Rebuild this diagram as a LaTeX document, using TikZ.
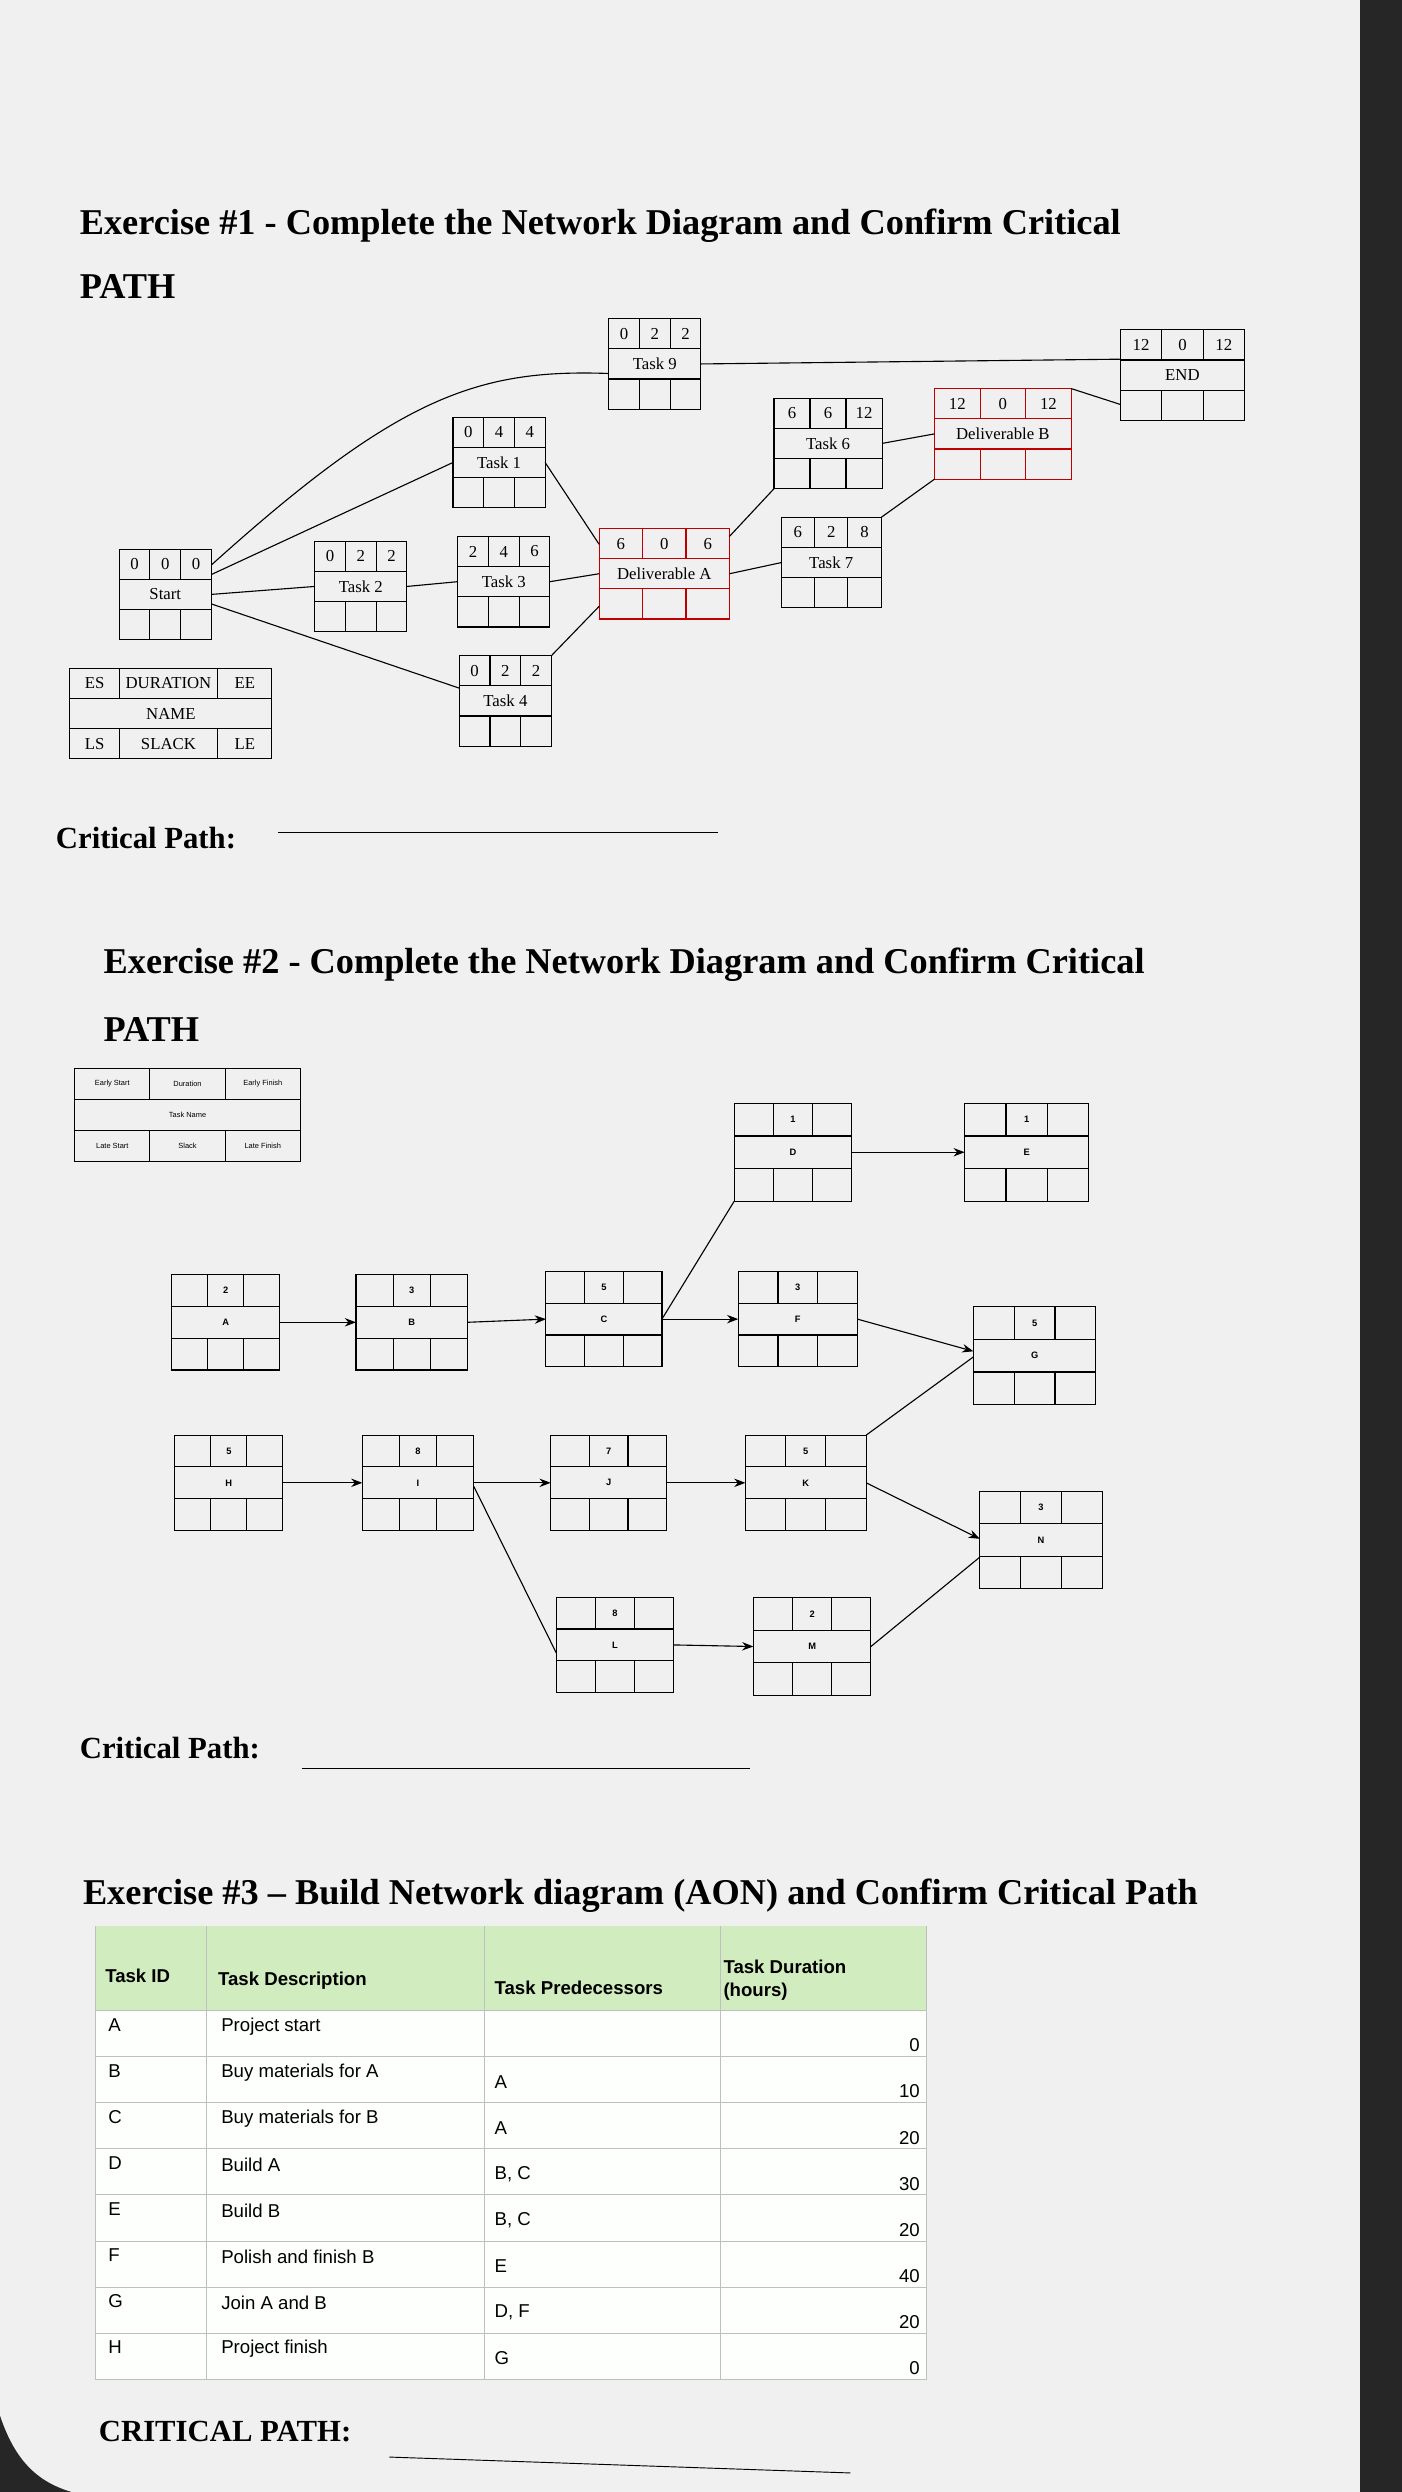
\documentclass[tikz,border=0pt]{standalone}
\usepackage{fontspec}
\setmainfont{Liberation Serif}
\setsansfont{Liberation Sans}
\usetikzlibrary{calc,arrows.meta}
\newcommand\nb[9]{%
\node[draw=#5,line width=0.6pt,inner sep=0,outer sep=0,minimum width=#3*0.03cm,minimum height=#4*0.09cm] (#1) at #2 {};
\draw[#5,line width=0.6pt] ($(#1.north west)+(0,#4)$) -- ($(#1.north east)+(0,#4)$);
\draw[#5,line width=0.6pt] ($(#1.north west)+(0,2*#4)$) -- ($(#1.north east)+(0,2*#4)$);
\foreach \f in {1,2}{\draw[#5,line width=0.6pt] ($(#1.north west)+(\f*#3/3,0)$) -- ++(0,#4); \draw[#5,line width=0.6pt] ($(#1.south west)+(\f*#3/3,0)$) -- ++(0,-#4);}
\node[bt] at ($(#1.north west)+(#3/6,#4/2)$) {#6};
\node[bt] at ($(#1.north west)+(#3/2,#4/2)$) {#7};
\node[bt] at ($(#1.north west)+(5*#3/6,#4/2)$) {#8};
\node[bt] at ($(#1.north west)+(#3/2,1.5*#4)$) {#9};
}
\begin{document}
\begin{tikzpicture}[x=0.03cm,y=-0.03cm,
  bt/.style={font=\fontsize{9}{10}\selectfont,inner sep=0},
  ttl/.style={font=\fontsize{19.5}{22}\selectfont\bfseries,anchor=west,inner sep=0},
  cpt/.style={font=\fontsize{16.5}{19}\selectfont\bfseries,anchor=west,inner sep=0},
  conn/.style={line width=0.6pt},
  arr/.style={line width=0.6pt,-{Stealth[length=6pt]}},
  tc/.style={font=\sffamily\fontsize{10}{12}\selectfont,anchor=west,inner sep=0}]
\useasboundingbox (0,0) rectangle (882,1568);
\fill[black!6] (0,0) rectangle (882,1568);
\fill[black!85] (856,0) rectangle (882,1568);
\fill[black!85] (0,1520) .. controls (10,1550) and (25,1562) .. (45,1568) -- (0,1568) -- cycle;
% ---------- Exercise 1
\node[ttl] (t1) at (50,142) {Exercise \#1 - Complete the Network Diagram and Confirm Critical};
\node[ttl] (t1b) at (50,180) {PATH};
\nb{t9}{(412,229)}{58}{19}{black}{0}{2}{2}{Task 9}
\nb{st}{(104,374)}{58}{19}{black}{0}{0}{0}{Start}
\nb{t1n}{(314,291)}{58}{19}{black}{0}{4}{4}{Task 1}
\nb{t2}{(227,369)}{58}{19}{black}{0}{2}{2}{Task 2}
\nb{t3}{(317,366)}{58}{19}{black}{2}{4}{6}{Task 3}
\nb{t4}{(318,441)}{58}{19}{black}{0}{2}{2}{Task 4}
\nb{da}{(418,361)}{82}{19}{red!75!black}{6}{0}{6}{Deliverable A}
\nb{t6}{(521,279)}{68}{19}{black}{6}{6}{12}{Task 6}
\nb{t7}{(523,354)}{63}{19}{black}{6}{2}{8}{Task 7}
\nb{db}{(631,273)}{86}{19}{red!75!black}{12}{0}{12}{Deliverable B}
\nb{en}{(744,236)}{78}{19}{black}{12}{0}{12}{END}
% legend with uneven columns
\node[draw,line width=0.6pt,inner sep=0,outer sep=0,minimum width=127*0.03cm,minimum height=57*0.03cm] (lg) at (107.5,449) {};
\draw[line width=0.6pt] ($(lg.north west)+(0,19)$) -- ($(lg.north east)+(0,19)$);
\draw[line width=0.6pt] ($(lg.north west)+(0,38)$) -- ($(lg.north east)+(0,38)$);
\foreach \dx in {31,93}{\draw[line width=0.6pt] ($(lg.north west)+(\dx,0)$) -- ++(0,19); \draw[line width=0.6pt] ($(lg.south west)+(\dx,0)$) -- ++(0,-19);}
\node[bt] at ($(lg.north west)+(15.5,9.5)$) {ES};
\node[bt] at ($(lg.north west)+(62,9.5)$) {DURATION};
\node[bt] at ($(lg.north west)+(110,9.5)$) {EE};
\node[bt] at ($(lg.north west)+(63.5,28.5)$) {NAME};
\node[bt] at ($(lg.south west)+(15.5,-9.5)$) {LS};
\node[bt] at ($(lg.south west)+(62,-9.5)$) {SLACK};
\node[bt] at ($(lg.south west)+(110,-9.5)$) {LE};
\draw[conn] ($(st.north east)+(0,10)$) .. controls (250,250) and (300,232) .. ($(t9.west)+(0,6)$);
\draw[conn] ($(st.north east)+(0,16)$) -- ($(t1n.west)+(0,0)$);
\draw[conn] (st.east) -- (t2.west);
\draw[conn] ($(st.east)+(0,6)$) -- ($(t4.west)+(0,-8)$);
\draw[conn] (t2.east) -- (t3.west);
\draw[conn] (t1n.east) -- ($(da.north west)+(0,10)$);
\draw[conn] (t3.east) -- (da.west);
\draw[conn] (t4.north east) -- ($(da.south west)+(0,-8)$);
\draw[conn] ($(da.north east)+(0,5)$) -- (t6.south west);
\draw[conn] (da.east) -- (t7.west);
\draw[conn] (t6.east) -- (db.west);
\draw[conn] (t7.north east) -- (db.south west);
\draw[conn] (db.north east) -- ($(en.south west)+(0,-10)$);
\draw[conn] (t9.east) -- ($(en.west)+(0,-10)$);
\node[cpt] (cp1) at (35,527) {Critical Path:};
\coordinate (l1a) at (175,524); \coordinate (l1b) at (452,524);
\draw[line width=0.5pt] (l1a) -- (l1b);
% ---------- Exercise 2
\node[ttl] (t2t) at (65,607) {Exercise \#2 - Complete the Network Diagram and Confirm Critical};
\node[ttl] (t2b) at (65,648) {PATH};
\begin{scope}[bt/.style={font=\sffamily\fontsize{4}{5}\selectfont,inner sep=0}]
\nb{lg2}{(118,701.5)}{142}{19.5}{black}{Early Start}{Duration}{Early Finish}{Task Name}
\node[bt] at ($(lg2.south west)+(142/6,-9.75)$) {Late Start};
\node[bt] at ($(lg2.south west)+(142/2,-9.75)$) {Slack};
\node[bt] at ($(lg2.south west)+(5*142/6,-9.75)$) {Late Finish};
\end{scope}
\begin{scope}[bt/.style={font=\sffamily\bfseries\fontsize{5}{6}\selectfont,inner sep=0}]
\nb{D}{(499,725)}{74}{20.5}{black}{}{1}{}{D}
\nb{E}{(646,725)}{78}{20.5}{black}{}{1}{}{E}
\nb{A}{(142,832)}{68}{20}{black}{}{2}{}{A}
\nb{B}{(259,832)}{70}{20}{black}{}{3}{}{B}
\nb{C}{(380,830)}{73}{20}{black}{}{5}{}{C}
\nb{F}{(502,830)}{75}{20}{black}{}{3}{}{F}
\nb{G}{(651,853)}{77}{20.5}{black}{}{5}{}{G}
\nb{H}{(144,933)}{68}{20}{black}{}{5}{}{H}
\nb{I}{(263,933)}{70}{20}{black}{}{8}{}{I}
\nb{J}{(383,933)}{73}{20}{black}{}{7}{}{J}
\nb{K}{(507,933)}{76}{20}{black}{}{5}{}{K}
\nb{N}{(655,969)}{77}{20.5}{black}{}{3}{}{N}
\nb{L}{(387,1035)}{74}{20}{black}{}{8}{}{L}
\nb{M}{(511,1036)}{74}{20.5}{black}{}{2}{}{M}
\end{scope}
\draw[arr] (A.east) -- (B.west);
\draw[arr] (B.east) -- (C.west);
\draw[arr] (C.east) -- (F.west);
\draw[conn] (C.east) -- (D.south west);
\draw[arr] (D.east) -- (E.west);
\draw[arr] (F.east) -- ($(G.north west)+(0,28)$);
\draw[conn] (K.north east) -- ($(G.south west)+(0,-30)$);
\draw[arr] (H.east) -- (I.west);
\draw[arr] (I.east) -- (J.west);
\draw[arr] (J.east) -- (K.west);
\draw[arr] (K.east) -- ($(N.north west)+(0,30)$);
\draw[conn] (M.east) -- ($(N.south west)+(0,-20)$);
\draw[conn] ($(I.east)+(0,2)$) -- ($(L.west)+(0,5)$);
\draw[arr] (L.east) -- (M.west);
\node[cpt] (cp2) at (50,1100) {Critical Path:};
\coordinate (l2a) at (190,1113); \coordinate (l2b) at (472,1113);
\draw[line width=0.5pt] (l2a) -- (l2b);
% ---------- Exercise 3
\node[ttl] (t3t) at (52,1193) {Exercise \#3 – Build Network diagram (AON) and Confirm Critical Path};
\fill[green!45!olive!25] (60,1212) rectangle (583,1265);
\fill[white!80!green!5] (60,1265) rectangle (583,1497);
\foreach \yy in {1265,1294,1323,1352,1381,1410,1439,1468,1497} \draw[black!25] (60,\yy) -- (583,\yy);
\foreach \xx in {60,130,305,453,583} \draw[black!25] (\xx,1212) -- (\xx,1497);
\node[tc,font=\sffamily\bfseries\fontsize{10}{12}\selectfont] (h1) at (66,1243) {Task ID};
\node[tc,font=\sffamily\bfseries\fontsize{10}{12}\selectfont] (h2) at (137,1246) {Task Description};
\node[tc,font=\sffamily\bfseries\fontsize{10}{12}\selectfont] (h3) at (311,1251) {Task Predecessors};
\node[tc,font=\sffamily\bfseries\fontsize{10}{12}\selectfont,align=left] (h4) at (455,1246) {Task Duration\\(hours)};
\foreach \i/\id/\de/\pr/\du in {0/A/Project start//0,1/B/Buy materials for A/A/10,2/C/Buy materials for B/A/20,3/D/Build A/{B, C}/30,4/E/Build B/{B, C}/20,5/F/Polish and finish B/E/40,6/G/Join A and B/{D, F}/20,7/H/Project finish/G/0}{
  \node[tc] at (68,1274+29*\i) {\id};
  \node[tc] at (139,1275+29*\i) {\de};
  \node[tc] at (311,1281+29*\i) {\pr};
  \node[tc,anchor=east] at (579,1287+29*\i) {\du};
}
\node[cpt] (cp3) at (62,1530) {CRITICAL PATH:};
\coordinate (l3a) at (245,1546); \coordinate (l3b) at (535,1556);
\draw[line width=0.5pt] (l3a) -- (l3b);
\end{tikzpicture}
\end{document}
